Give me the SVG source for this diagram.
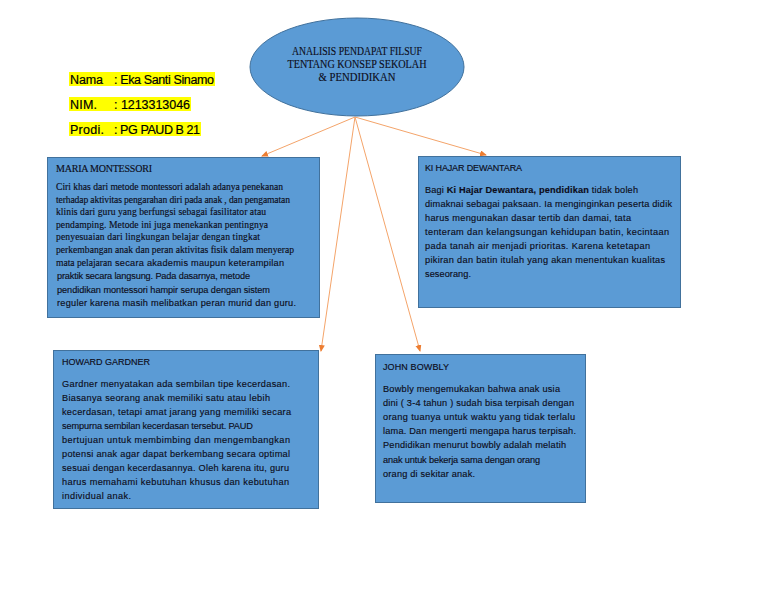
<svg xmlns="http://www.w3.org/2000/svg" width="768" height="594" viewBox="0 0 768 594">
<defs>
<marker id="arr" markerWidth="8" markerHeight="8" refX="6" refY="3" orient="auto" markerUnits="userSpaceOnUse">
<path d="M0,0 L7,3 L0,6 Z" fill="#ed7d31"/>
</marker>
<style>
.box{fill:#5b9bd5;stroke:#41719c;stroke-width:1}
.conn{stroke:#f4a46a;stroke-width:1;fill:none;marker-end:url(#arr)}
.serif{font-family:"Liberation Serif","DejaVu Serif",serif;fill:#0d0d1a;stroke:#0d0d1a;stroke-width:0.15}
.sans{font-family:"Liberation Sans","DejaVu Sans",sans-serif;fill:#0d0d1a;stroke:#0d0d1a;stroke-width:0.15}
.ttl{font-size:11.5px}
.tt{font-size:9px}
.ts{font-size:10px}
.bs{font-size:9.6px}
.bf{font-size:9.2px}
.info{font-family:"Liberation Sans","DejaVu Sans",sans-serif;font-size:12.5px;fill:#000;stroke:#000;stroke-width:0.2}
.hl{fill:#ffff00}
</style>
</defs>
<rect width="768" height="594" fill="#ffffff"/>

<g id="info">
<rect class="hl" x="69" y="72" width="146" height="14"/>
<rect class="hl" x="69" y="97" width="122" height="14"/>
<rect class="hl" x="69" y="122" width="132" height="14"/>
<text class="info" x="70" y="83.5" textLength="33">Nama</text><text class="info" x="114" y="83.5" textLength="100">: Eka Santi Sinamo</text>
<text class="info" x="70" y="108.5" textLength="27">NIM.</text><text class="info" x="114" y="108.5" textLength="76">: 1213313046</text>
<text class="info" x="70" y="133.5" textLength="34">Prodi.</text><text class="info" x="114" y="133.5" textLength="86">: PG PAUD B 21</text>
</g>

<g id="connectors">
<line class="conn" x1="355" y1="117" x2="262" y2="156"/>
<line class="conn" x1="355" y1="117" x2="321" y2="351"/>
<line class="conn" x1="355" y1="117" x2="420" y2="351"/>
<line class="conn" x1="355" y1="117" x2="486" y2="155"/>
</g>

<g id="main">
<ellipse class="box" cx="357" cy="67" rx="107" ry="49"/>
<text class="serif ttl" x="357" y="54.5" text-anchor="middle" textLength="130" lengthAdjust="spacingAndGlyphs">ANALISIS PENDAPAT FILSUF</text>
<text class="serif ttl" x="357" y="67.5" text-anchor="middle" textLength="139" lengthAdjust="spacingAndGlyphs">TENTANG KONSEP SEKOLAH</text>
<text class="serif ttl" x="357" y="81" text-anchor="middle" textLength="77" lengthAdjust="spacingAndGlyphs">&amp; PENDIDIKAN</text>
</g>

<g id="maria">
<rect class="box" x="47.5" y="157.5" width="272" height="160"/>
<text class="serif ts" x="56" y="171.5" textLength="96">MARIA MONTESSORI</text>
<text class="serif bs" x="56" y="190" textLength="227">Ciri khas dari metode montessori adalah adanya penekanan</text>
<text class="serif bs" x="56" y="202.5" textLength="234">terhadap aktivitas pengarahan diri pada anak , dan pengamatan</text>
<text class="serif bs" x="56" y="215" textLength="210">klinis dari guru yang berfungsi sebagai fasilitator atau</text>
<text class="serif bs" x="56" y="227.5" textLength="212">pendamping. Metode ini juga menekankan pentingnya</text>
<text class="serif bs" x="56" y="240" textLength="204">penyesuaian dari lingkungan belajar dengan tingkat</text>
<text class="serif bs" x="56" y="252.5" textLength="238">perkembangan anak dan peran aktivitas fisik dalam menyerap</text>
<text class="serif bs" x="56" y="265.5" textLength="56">mata pelajaran</text><text class="sans bf" x="115" y="265.5" textLength="169">secara akademis maupun keterampilan</text>
<text class="sans bf" x="57" y="279" textLength="193">praktik secara langsung. Pada dasarnya, metode</text>
<text class="sans bf" x="57" y="292.5" textLength="213">pendidikan montessori hampir serupa dengan sistem</text>
<text class="sans bf" x="57" y="306" textLength="239">reguler karena masih melibatkan peran murid dan guru.</text>
</g>

<g id="kihajar">
<rect class="box" x="418.5" y="156.5" width="262" height="151"/>
<text class="sans tt" x="425" y="171" textLength="97">KI HAJAR DEWANTARA</text>
<text class="sans bf" x="425" y="193" textLength="213">Bagi <tspan font-weight="bold">Ki Hajar Dewantara, pendidikan</tspan> tidak boleh</text>
<text class="sans bf" x="425" y="207" textLength="247">dimaknai sebagai paksaan. Ia menginginkan peserta didik</text>
<text class="sans bf" x="425" y="221" textLength="206">harus mengunakan dasar tertib dan damai, tata</text>
<text class="sans bf" x="425" y="235" textLength="244">tenteram dan kelangsungan kehidupan batin, kecintaan</text>
<text class="sans bf" x="425" y="249" textLength="225">pada tanah air menjadi prioritas. Karena ketetapan</text>
<text class="sans bf" x="425" y="263" textLength="240">pikiran dan batin itulah yang akan menentukan kualitas</text>
<text class="sans bf" x="425" y="277" textLength="46">seseorang.</text>
</g>

<g id="howard">
<rect class="box" x="53.5" y="350.5" width="265" height="158"/>
<text class="sans tt" x="62" y="365" textLength="88">HOWARD GARDNER</text>
<text class="sans bf" x="62" y="387" textLength="228">Gardner menyatakan ada sembilan tipe kecerdasan.</text>
<text class="sans bf" x="62" y="401" textLength="208">Biasanya seorang anak memiliki satu atau lebih</text>
<text class="sans bf" x="62" y="415" textLength="229">kecerdasan, tetapi amat jarang yang memiliki secara</text>
<text class="sans bf" x="62" y="429" textLength="191">sempurna sembilan kecerdasan tersebut. PAUD</text>
<text class="sans bf" x="62" y="443" textLength="228">bertujuan untuk membimbing dan mengembangkan</text>
<text class="sans bf" x="62" y="457" textLength="228">potensi anak agar dapat berkembang secara optimal</text>
<text class="sans bf" x="62" y="471" textLength="227">sesuai dengan kecerdasannya. Oleh karena itu, guru</text>
<text class="sans bf" x="62" y="485" textLength="227">harus memahami kebutuhan khusus dan kebutuhan</text>
<text class="sans bf" x="62" y="499" textLength="69">individual anak.</text>
</g>

<g id="john">
<rect class="box" x="375.5" y="354.5" width="210" height="148"/>
<text class="sans tt" x="383" y="370" textLength="66">JOHN BOWBLY</text>
<text class="sans bf" x="383" y="392" textLength="177">Bowbly mengemukakan bahwa anak usia</text>
<text class="sans bf" x="383" y="406" textLength="191">dini ( 3-4 tahun ) sudah bisa terpisah dengan</text>
<text class="sans bf" x="383" y="420" textLength="192">orang tuanya untuk waktu yang tidak terlalu</text>
<text class="sans bf" x="383" y="434" textLength="193">lama. Dan mengerti mengapa harus terpisah.</text>
<text class="sans bf" x="383" y="448" textLength="183">Pendidikan menurut bowbly adalah melatih</text>
<text class="sans bf" x="383" y="463" textLength="157">anak untuk bekerja sama dengan orang</text>
<text class="sans bf" x="383" y="477" textLength="92">orang di sekitar anak.</text>
</g>
</svg>
